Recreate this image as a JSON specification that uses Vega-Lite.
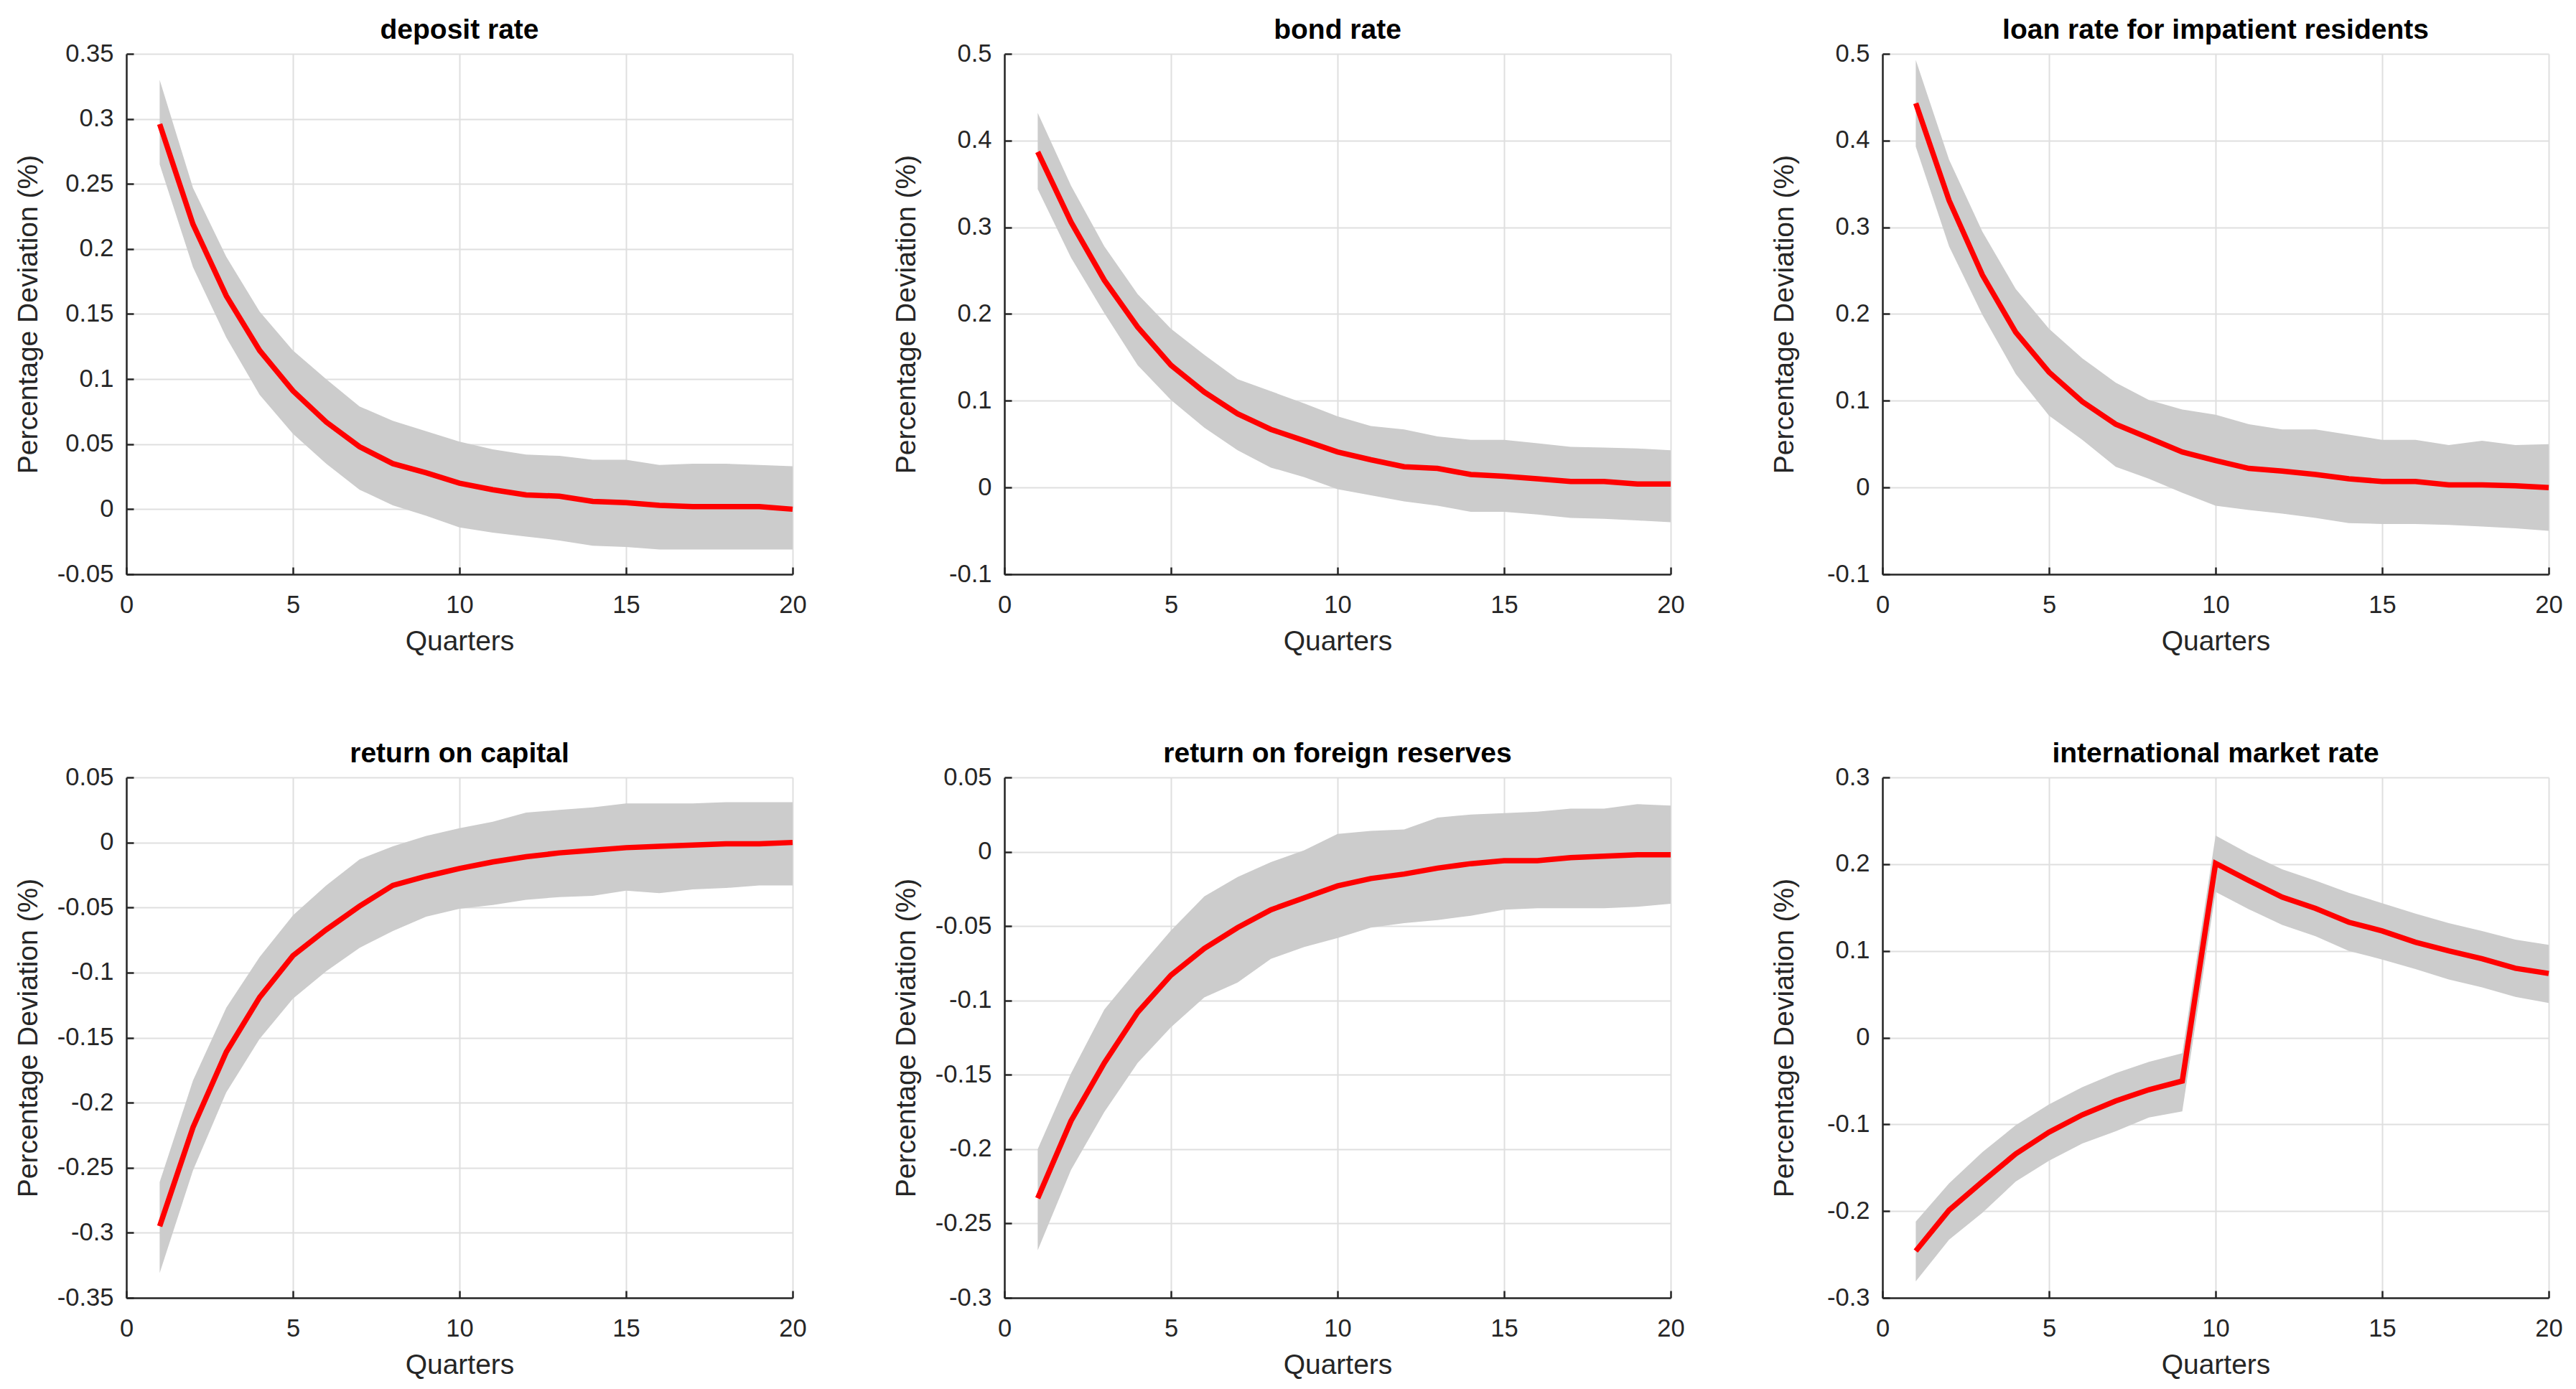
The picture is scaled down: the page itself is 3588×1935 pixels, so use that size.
{
  "$schema": "https://vega.github.io/schema/vega-lite/v6.json",
  "padding": {"left": 20, "top": 23, "right": 10, "bottom": 10},
  "background": "white",
  "datasets": {
    "p1": [
      {"q":1,"m":0.296,"lo":0.265,"hi":0.330},{"q":2,"m":0.219,"lo":0.186,"hi":0.247},{"q":3,"m":0.164,"lo":0.132,"hi":0.194},{"q":4,"m":0.122,"lo":0.088,"hi":0.152},{"q":5,"m":0.091,"lo":0.058,"hi":0.122},{"q":6,"m":0.067,"lo":0.035,"hi":0.100},{"q":7,"m":0.048,"lo":0.015,"hi":0.079},{"q":8,"m":0.035,"lo":0.003,"hi":0.068},{"q":9,"m":0.028,"lo":-0.005,"hi":0.060},{"q":10,"m":0.020,"lo":-0.014,"hi":0.052},{"q":11,"m":0.015,"lo":-0.018,"hi":0.046},{"q":12,"m":0.011,"lo":-0.021,"hi":0.042},{"q":13,"m":0.010,"lo":-0.024,"hi":0.041},{"q":14,"m":0.006,"lo":-0.028,"hi":0.038},{"q":15,"m":0.005,"lo":-0.029,"hi":0.038},{"q":16,"m":0.003,"lo":-0.031,"hi":0.034},{"q":17,"m":0.002,"lo":-0.031,"hi":0.035},{"q":18,"m":0.002,"lo":-0.031,"hi":0.035},{"q":19,"m":0.002,"lo":-0.031,"hi":0.034},{"q":20,"m":0.000,"lo":-0.031,"hi":0.033}
    ],
    "p2": [
      {"q":1,"m":0.387,"lo":0.344,"hi":0.432},{"q":2,"m":0.306,"lo":0.265,"hi":0.348},{"q":3,"m":0.239,"lo":0.201,"hi":0.278},{"q":4,"m":0.185,"lo":0.141,"hi":0.223},{"q":5,"m":0.141,"lo":0.101,"hi":0.183},{"q":6,"m":0.110,"lo":0.069,"hi":0.153},{"q":7,"m":0.085,"lo":0.043,"hi":0.125},{"q":8,"m":0.067,"lo":0.023,"hi":0.111},{"q":9,"m":0.054,"lo":0.012,"hi":0.097},{"q":10,"m":0.041,"lo":-0.002,"hi":0.082},{"q":11,"m":0.032,"lo":-0.009,"hi":0.071},{"q":12,"m":0.024,"lo":-0.016,"hi":0.067},{"q":13,"m":0.022,"lo":-0.021,"hi":0.059},{"q":14,"m":0.015,"lo":-0.028,"hi":0.055},{"q":15,"m":0.013,"lo":-0.028,"hi":0.055},{"q":16,"m":0.010,"lo":-0.031,"hi":0.051},{"q":17,"m":0.007,"lo":-0.035,"hi":0.047},{"q":18,"m":0.007,"lo":-0.036,"hi":0.046},{"q":19,"m":0.004,"lo":-0.038,"hi":0.045},{"q":20,"m":0.004,"lo":-0.040,"hi":0.043}
    ],
    "p3": [
      {"q":1,"m":0.443,"lo":0.393,"hi":0.493},{"q":2,"m":0.331,"lo":0.278,"hi":0.378},{"q":3,"m":0.245,"lo":0.199,"hi":0.295},{"q":4,"m":0.179,"lo":0.131,"hi":0.229},{"q":5,"m":0.133,"lo":0.083,"hi":0.183},{"q":6,"m":0.099,"lo":0.055,"hi":0.149},{"q":7,"m":0.073,"lo":0.024,"hi":0.121},{"q":8,"m":0.057,"lo":0.010,"hi":0.101},{"q":9,"m":0.041,"lo":-0.006,"hi":0.090},{"q":10,"m":0.031,"lo":-0.021,"hi":0.084},{"q":11,"m":0.022,"lo":-0.026,"hi":0.073},{"q":12,"m":0.019,"lo":-0.030,"hi":0.067},{"q":13,"m":0.015,"lo":-0.035,"hi":0.067},{"q":14,"m":0.010,"lo":-0.041,"hi":0.061},{"q":15,"m":0.007,"lo":-0.042,"hi":0.055},{"q":16,"m":0.007,"lo":-0.042,"hi":0.055},{"q":17,"m":0.003,"lo":-0.043,"hi":0.049},{"q":18,"m":0.003,"lo":-0.045,"hi":0.054},{"q":19,"m":0.002,"lo":-0.047,"hi":0.049},{"q":20,"m":0.000,"lo":-0.050,"hi":0.050}
    ],
    "p4": [
      {"q":1,"m":-0.295,"lo":-0.331,"hi":-0.261},{"q":2,"m":-0.219,"lo":-0.252,"hi":-0.183},{"q":3,"m":-0.161,"lo":-0.192,"hi":-0.127},{"q":4,"m":-0.119,"lo":-0.151,"hi":-0.088},{"q":5,"m":-0.087,"lo":-0.120,"hi":-0.056},{"q":6,"m":-0.067,"lo":-0.099,"hi":-0.033},{"q":7,"m":-0.049,"lo":-0.081,"hi":-0.013},{"q":8,"m":-0.033,"lo":-0.068,"hi":-0.003},{"q":9,"m":-0.026,"lo":-0.057,"hi":0.005},{"q":10,"m":-0.020,"lo":-0.051,"hi":0.011},{"q":11,"m":-0.015,"lo":-0.048,"hi":0.016},{"q":12,"m":-0.011,"lo":-0.044,"hi":0.023},{"q":13,"m":-0.008,"lo":-0.042,"hi":0.025},{"q":14,"m":-0.006,"lo":-0.041,"hi":0.027},{"q":15,"m":-0.004,"lo":-0.037,"hi":0.030},{"q":16,"m":-0.003,"lo":-0.039,"hi":0.030},{"q":17,"m":-0.002,"lo":-0.036,"hi":0.030},{"q":18,"m":-0.001,"lo":-0.035,"hi":0.031},{"q":19,"m":-0.001,"lo":-0.033,"hi":0.031},{"q":20,"m":0.000,"lo":-0.033,"hi":0.031}
    ],
    "p5": [
      {"q":1,"m":-0.233,"lo":-0.268,"hi":-0.200},{"q":2,"m":-0.181,"lo":-0.214,"hi":-0.149},{"q":3,"m":-0.142,"lo":-0.175,"hi":-0.106},{"q":4,"m":-0.108,"lo":-0.142,"hi":-0.079},{"q":5,"m":-0.083,"lo":-0.118,"hi":-0.053},{"q":6,"m":-0.065,"lo":-0.098,"hi":-0.030},{"q":7,"m":-0.051,"lo":-0.088,"hi":-0.017},{"q":8,"m":-0.039,"lo":-0.072,"hi":-0.007},{"q":9,"m":-0.031,"lo":-0.064,"hi":0.001},{"q":10,"m":-0.023,"lo":-0.058,"hi":0.012},{"q":11,"m":-0.018,"lo":-0.051,"hi":0.014},{"q":12,"m":-0.015,"lo":-0.048,"hi":0.015},{"q":13,"m":-0.011,"lo":-0.046,"hi":0.023},{"q":14,"m":-0.008,"lo":-0.043,"hi":0.025},{"q":15,"m":-0.006,"lo":-0.039,"hi":0.026},{"q":16,"m":-0.006,"lo":-0.038,"hi":0.027},{"q":17,"m":-0.004,"lo":-0.038,"hi":0.029},{"q":18,"m":-0.003,"lo":-0.038,"hi":0.029},{"q":19,"m":-0.002,"lo":-0.037,"hi":0.032},{"q":20,"m":-0.002,"lo":-0.035,"hi":0.031}
    ],
    "p6": [
      {"q":1,"m":-0.246,"lo":-0.281,"hi":-0.212},{"q":2,"m":-0.199,"lo":-0.233,"hi":-0.168},{"q":3,"m":-0.166,"lo":-0.202,"hi":-0.132},{"q":4,"m":-0.134,"lo":-0.166,"hi":-0.101},{"q":5,"m":-0.109,"lo":-0.142,"hi":-0.077},{"q":6,"m":-0.089,"lo":-0.122,"hi":-0.057},{"q":7,"m":-0.073,"lo":-0.108,"hi":-0.041},{"q":8,"m":-0.060,"lo":-0.092,"hi":-0.028},{"q":9,"m":-0.050,"lo":-0.085,"hi":-0.018},{"q":10,"m":0.201,"lo":0.168,"hi":0.233},{"q":11,"m":0.181,"lo":0.148,"hi":0.212},{"q":12,"m":0.162,"lo":0.130,"hi":0.194},{"q":13,"m":0.149,"lo":0.117,"hi":0.181},{"q":14,"m":0.133,"lo":0.100,"hi":0.167},{"q":15,"m":0.123,"lo":0.090,"hi":0.155},{"q":16,"m":0.110,"lo":0.079,"hi":0.143},{"q":17,"m":0.100,"lo":0.067,"hi":0.132},{"q":18,"m":0.091,"lo":0.058,"hi":0.123},{"q":19,"m":0.080,"lo":0.047,"hi":0.113},{"q":20,"m":0.074,"lo":0.040,"hi":0.107}
    ]
  },
  "columns": 3,
  "spacing": {"row": 283, "column": 295},
  "bounds": "flush",
  "concat": [
    {
      "title": "deposit rate",
      "data": {"name": "p1"},
      "width": 928, "height": 725,
      "encoding": {"x": {"field": "q", "type": "quantitative", "scale": {"domain": [0, 20], "nice": false}, "axis": {"values": [0, 5, 10, 15, 20], "title": "Quarters"}}},
      "layer": [
        {"mark": {"type": "area", "color": "#cccccc", "opacity": 1}, "encoding": {"y": {"field": "lo", "type": "quantitative", "scale": {"domain": [-0.05, 0.35], "nice": false, "zero": false}, "axis": {"values": [-0.05, 0, 0.05, 0.1, 0.15, 0.2, 0.25, 0.3, 0.35], "title": "Percentage Deviation (%)"}}, "y2": {"field": "hi"}}},
        {"mark": {"type": "line", "color": "#ff0000", "strokeWidth": 7.5}, "encoding": {"y": {"field": "m", "type": "quantitative"}}}
      ]
    },
    {
      "title": "bond rate",
      "data": {"name": "p2"},
      "width": 928, "height": 725,
      "encoding": {"x": {"field": "q", "type": "quantitative", "scale": {"domain": [0, 20], "nice": false}, "axis": {"values": [0, 5, 10, 15, 20], "title": "Quarters"}}},
      "layer": [
        {"mark": {"type": "area", "color": "#cccccc", "opacity": 1}, "encoding": {"y": {"field": "lo", "type": "quantitative", "scale": {"domain": [-0.1, 0.5], "nice": false, "zero": false}, "axis": {"values": [-0.1, 0, 0.1, 0.2, 0.3, 0.4, 0.5], "title": "Percentage Deviation (%)"}}, "y2": {"field": "hi"}}},
        {"mark": {"type": "line", "color": "#ff0000", "strokeWidth": 7.5}, "encoding": {"y": {"field": "m", "type": "quantitative"}}}
      ]
    },
    {
      "title": "loan rate for impatient residents",
      "data": {"name": "p3"},
      "width": 928, "height": 725,
      "encoding": {"x": {"field": "q", "type": "quantitative", "scale": {"domain": [0, 20], "nice": false}, "axis": {"values": [0, 5, 10, 15, 20], "title": "Quarters"}}},
      "layer": [
        {"mark": {"type": "area", "color": "#cccccc", "opacity": 1}, "encoding": {"y": {"field": "lo", "type": "quantitative", "scale": {"domain": [-0.1, 0.5], "nice": false, "zero": false}, "axis": {"values": [-0.1, 0, 0.1, 0.2, 0.3, 0.4, 0.5], "title": "Percentage Deviation (%)"}}, "y2": {"field": "hi"}}},
        {"mark": {"type": "line", "color": "#ff0000", "strokeWidth": 7.5}, "encoding": {"y": {"field": "m", "type": "quantitative"}}}
      ]
    },
    {
      "title": "return on capital",
      "data": {"name": "p4"},
      "width": 928, "height": 725,
      "encoding": {"x": {"field": "q", "type": "quantitative", "scale": {"domain": [0, 20], "nice": false}, "axis": {"values": [0, 5, 10, 15, 20], "title": "Quarters"}}},
      "layer": [
        {"mark": {"type": "area", "color": "#cccccc", "opacity": 1}, "encoding": {"y": {"field": "lo", "type": "quantitative", "scale": {"domain": [-0.35, 0.05], "nice": false, "zero": false}, "axis": {"values": [-0.35, -0.3, -0.25, -0.2, -0.15, -0.1, -0.05, 0, 0.05], "title": "Percentage Deviation (%)"}}, "y2": {"field": "hi"}}},
        {"mark": {"type": "line", "color": "#ff0000", "strokeWidth": 7.5}, "encoding": {"y": {"field": "m", "type": "quantitative"}}}
      ]
    },
    {
      "title": "return on foreign reserves",
      "data": {"name": "p5"},
      "width": 928, "height": 725,
      "encoding": {"x": {"field": "q", "type": "quantitative", "scale": {"domain": [0, 20], "nice": false}, "axis": {"values": [0, 5, 10, 15, 20], "title": "Quarters"}}},
      "layer": [
        {"mark": {"type": "area", "color": "#cccccc", "opacity": 1}, "encoding": {"y": {"field": "lo", "type": "quantitative", "scale": {"domain": [-0.3, 0.05], "nice": false, "zero": false}, "axis": {"values": [-0.3, -0.25, -0.2, -0.15, -0.1, -0.05, 0, 0.05], "title": "Percentage Deviation (%)"}}, "y2": {"field": "hi"}}},
        {"mark": {"type": "line", "color": "#ff0000", "strokeWidth": 7.5}, "encoding": {"y": {"field": "m", "type": "quantitative"}}}
      ]
    },
    {
      "title": "international market rate",
      "data": {"name": "p6"},
      "width": 928, "height": 725,
      "encoding": {"x": {"field": "q", "type": "quantitative", "scale": {"domain": [0, 20], "nice": false}, "axis": {"values": [0, 5, 10, 15, 20], "title": "Quarters"}}},
      "layer": [
        {"mark": {"type": "area", "color": "#cccccc", "opacity": 1}, "encoding": {"y": {"field": "lo", "type": "quantitative", "scale": {"domain": [-0.3, 0.3], "nice": false, "zero": false}, "axis": {"values": [-0.3, -0.2, -0.1, 0, 0.1, 0.2, 0.3], "title": "Percentage Deviation (%)"}}, "y2": {"field": "hi"}}},
        {"mark": {"type": "line", "color": "#ff0000", "strokeWidth": 7.5}, "encoding": {"y": {"field": "m", "type": "quantitative"}}}
      ]
    }
  ],
  "config": {
    "view": {"stroke": null},
    "font": "Liberation Sans",
    "axis": {
      "labelFont": "Liberation Sans", "titleFont": "Liberation Sans",
      "labelFontSize": 34.5, "titleFontSize": 39,
      "labelColor": "#262626", "titleColor": "#262626", "titleFontWeight": "normal",
      "domainColor": "#262626", "domainWidth": 2.5,
      "tickColor": "#262626", "tickWidth": 2.5, "tickSize": -10,
      "gridColor": "#dfdfdf", "gridWidth": 2, "gridOpacity": 1,
      "labelFlush": false, "labelOverlap": false,
      "labelExpr": "'' + datum.value"
    },
    "axisX": {"labelPadding": 36, "titleY": 105, "titleBaseline": "alphabetic"},
    "axisY": {"labelPadding": 28, "titleX": -125, "titleBaseline": "alphabetic"},
    "title": {"font": "Liberation Sans", "fontSize": 39, "fontWeight": "bold", "color": "#000000", "offset": -5, "baseline": "alphabetic"}
  }
}
